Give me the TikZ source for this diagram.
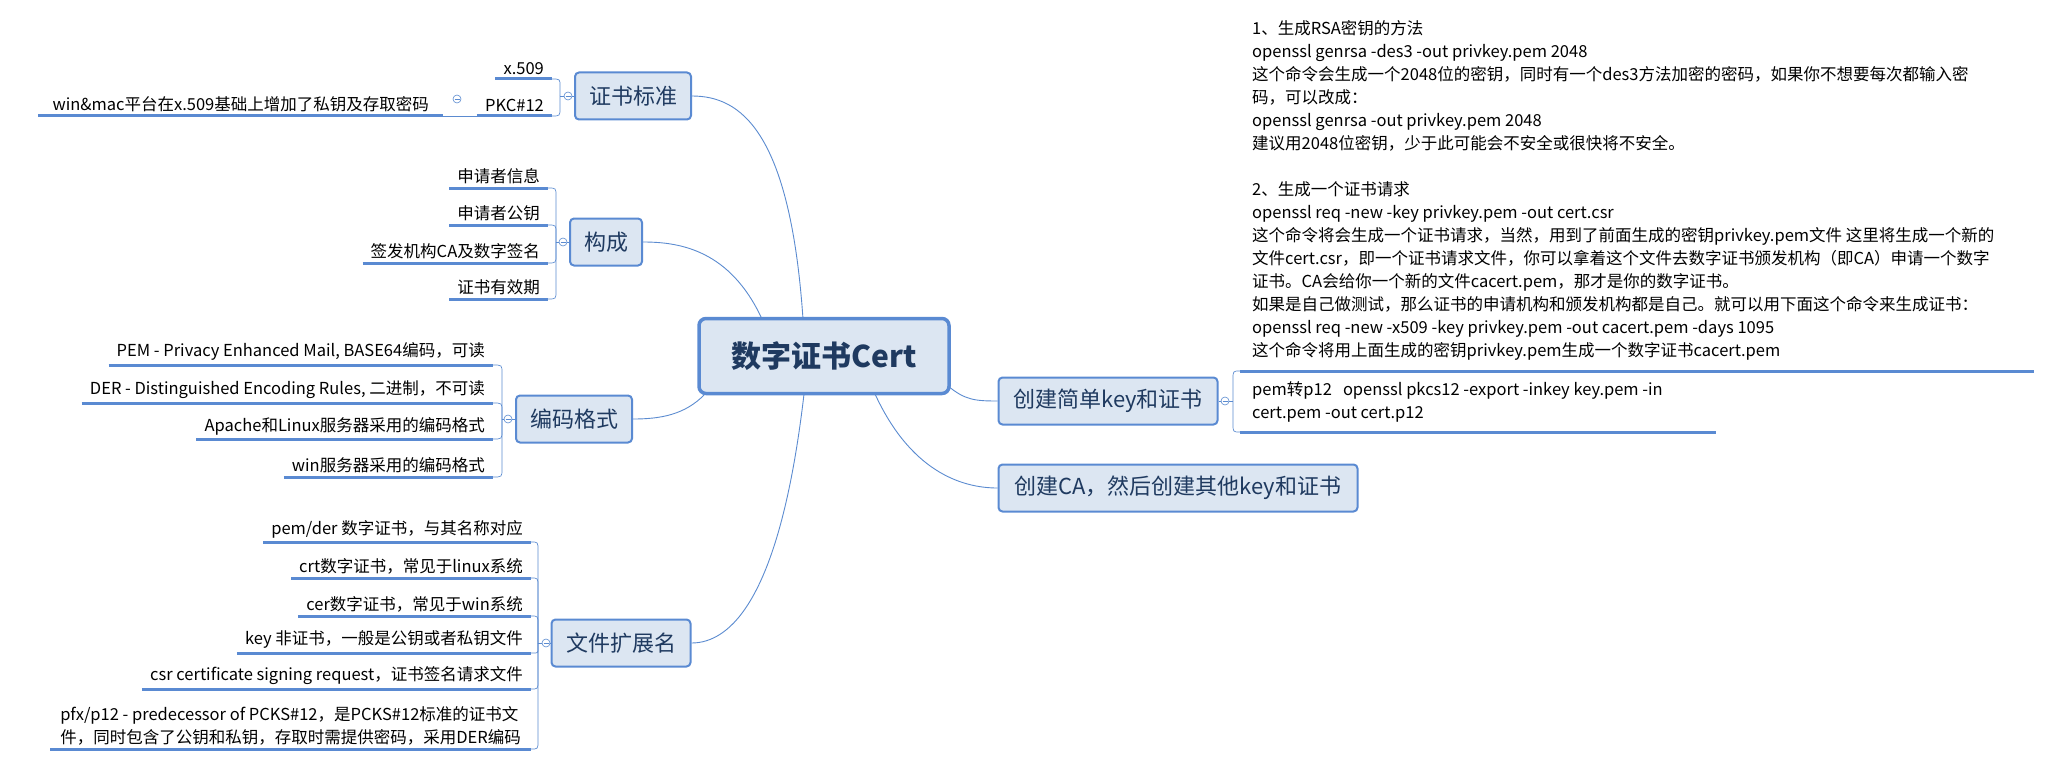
\documentclass[tikz,border=0pt]{standalone}
\usepackage{fontspec}
\setmainfont{Noto Sans CJK SC}
\begin{document}
\begin{tikzpicture}[x=1pt,y=-1pt,
  bl/.style={draw=blue!55!cyan!50!black},
  conn/.style={draw=lc,line width=0.9pt},
  topic/.style={draw=bc,fill=tf,line width=2pt,rounded corners=4pt,text=tc,font=\fontsize{22}{26}\selectfont,inner xsep=10pt,minimum height=47pt},
  leaf/.style={font=\fontsize{16.5}{23}\selectfont,inner xsep=8pt,inner ysep=4pt,anchor=south east},
  uline/.style={draw=uc,line width=3pt},
  tog/.style={draw=lc,fill=white,circle,inner sep=0pt,minimum size=8pt,line width=0.6pt}]
\definecolor{lc}{HTML}{5B8BD0}
\definecolor{uc}{HTML}{5A8AD2}
\definecolor{bc}{HTML}{5A8AD2}
\definecolor{tf}{HTML}{DCE6F2}
\definecolor{tc}{HTML}{1F3A60}
\useasboundingbox (0,0) rectangle (2050,765);
% center
\node[draw=bc,fill=tf,line width=3.5pt,rounded corners=7pt,text=tc,font=\bfseries\fontsize{30}{34}\selectfont,minimum width=250pt,minimum height=75pt] (c) at (824,356) {数字证书Cert};
% topics
\node[topic,minimum width=116pt] (t1) at (633,96) {证书标准};
\node[topic,minimum width=72pt] (t2) at (606,242) {构成};
\node[topic,minimum width=116pt] (t3) at (574,419) {编码格式};
\node[topic,minimum width=139pt] (t4) at (621,643) {文件扩展名};
\node[topic,minimum width=219pt] (t5) at (1108,401) {创建简单key和证书};
\node[topic,minimum width=359pt] (t6) at (1178,488) {创建CA，然后创建其他key和证书};
% center connectors
\coordinate (c1) at (803,319); \coordinate (c2) at (762,319);
\coordinate (c3) at (705,394); \coordinate (c4) at (804,394);
\coordinate (c5) at (948,386); \coordinate (c6) at (875,394);
\draw[conn] (c1) .. controls (790,130) and (740,96) .. (t1.east);
\draw[conn] (c2) .. controls (730,250) and (680,242) .. (t2.east);
\draw[conn] (c3) .. controls (685,415) and (660,419) .. (t3.east);
\draw[conn] (c4) .. controls (780,600) and (730,643) .. (t4.east);
\draw[conn] (c5) .. controls (965,400) and (975,401) .. (t5.west);
\draw[conn] (c6) .. controls (910,470) and (960,488) .. (t6.west);
% leaf macro: junction jx,jy ; leaf node end
\newcommand{\lbr}[4]{% #1 junction coord name, #2 leaf node, #3 jx, #4 sign
  \draw[conn,line width=0.7pt] (#1) |- ([xshift=0pt]#2.south east);}
% --- 证书标准
\node[leaf] (a1) at (552,79) {x.509};
\node[leaf] (a2) at (552,116) {PKC\#12};
\node[leaf,inner xsep=14pt] (a3) at (443,116) {win\&mac平台在x.509基础上增加了私钥及存取密码};
\foreach \n in {a1,a2,a3} \draw[uline] (\n.south west) -- (\n.south east);
\coordinate (j1) at (560,96);
\draw[conn,line width=0.7pt] (t1.west) -- (j1);
\draw[conn,line width=0.7pt] (j1) -- (560,86) .. controls (560,79) .. (a1.south east);
\draw[conn,line width=0.7pt] (j1) -- (560,108) .. controls (560,116) .. (a2.south east);
\draw[conn,line width=0.7pt] (a3.south east) -- (a2.south west);
\node[tog] (g1) at (568,96) {}; \draw[lc,line width=0.6pt] (565.5,96) -- (570.5,96);
\node[tog] (g1b) at (457,99) {}; \draw[lc,line width=0.6pt] (454.5,99) -- (459.5,99);
% --- 构成
\node[leaf] (b1) at (548,188) {申请者信息};
\node[leaf] (b2) at (548,225) {申请者公钥};
\node[leaf] (b3) at (548,263) {签发机构CA及数字签名};
\node[leaf] (b4) at (548,299) {证书有效期};
\foreach \n in {b1,b2,b3,b4} \draw[uline] (\n.south west) -- (\n.south east);
\coordinate (j2) at (556,242);
\draw[conn,line width=0.7pt] (t2.west) -- (j2);
\draw[conn,line width=0.7pt] (j2) -- (556,196) .. controls (556,188) .. (b1.south east);
\draw[conn,line width=0.7pt] (j2) -- (556,233) .. controls (556,225) .. (b2.south east);
\draw[conn,line width=0.7pt] (j2) -- (556,255) .. controls (556,263) .. (b3.south east);
\draw[conn,line width=0.7pt] (j2) -- (556,291) .. controls (556,299) .. (b4.south east);
\node[tog] (g2) at (563,242) {}; \draw[lc,line width=0.6pt] (560.5,242) -- (565.5,242);
% --- 编码格式
\node[leaf] (e1) at (493,365) {PEM - Privacy Enhanced Mail, BASE64编码，可读};
\node[leaf] (e2) at (493,403) {DER - Distinguished Encoding Rules, 二进制，不可读};
\node[leaf] (e3) at (493,439) {Apache和Linux服务器采用的编码格式};
\node[leaf] (e4) at (493,477) {win服务器采用的编码格式};
\foreach \n in {e1,e2,e3,e4} \draw[uline] (\n.south west) -- (\n.south east);
\coordinate (j3) at (502,419);
\draw[conn,line width=0.7pt] (t3.west) -- (j3);
\draw[conn,line width=0.7pt] (j3) -- (502,373) .. controls (502,365) .. (e1.south east);
\draw[conn,line width=0.7pt] (j3) -- (502,411) .. controls (502,403) .. (e2.south east);
\draw[conn,line width=0.7pt] (j3) -- (502,431) .. controls (502,439) .. (e3.south east);
\draw[conn,line width=0.7pt] (j3) -- (502,469) .. controls (502,477) .. (e4.south east);
\node[tog] (g3) at (508,419) {}; \draw[lc,line width=0.6pt] (505.5,419) -- (510.5,419);
% --- 文件扩展名
\node[leaf] (f1) at (531,542) {pem/der 数字证书，与其名称对应};
\node[leaf] (f2) at (531,578) {crt数字证书，常见于linux系统};
\node[leaf] (f3) at (531,616) {cer数字证书，常见于win系统};
\node[leaf] (f4) at (531,653) {key 非证书，一般是公钥或者私钥文件};
\node[leaf] (f5) at (531,689) {csr certificate signing request，证书签名请求文件};
\node[leaf,align=left,inner xsep=10pt] (f6) at (531,749) {pfx/p12 - predecessor of PCKS\#12，是PCKS\#12标准的证书文\\件，同时包含了公钥和私钥，存取时需提供密码，采用DER编码};
\foreach \n in {f1,f2,f3,f4,f5,f6} \draw[uline] (\n.south west) -- (\n.south east);
\coordinate (j4) at (538,643);
\draw[conn,line width=0.7pt] (t4.west) -- (j4);
\draw[conn,line width=0.7pt] (j4) -- (538,550) .. controls (538,542) .. (f1.south east);
\draw[conn,line width=0.7pt] (j4) -- (538,586) .. controls (538,578) .. (f2.south east);
\draw[conn,line width=0.7pt] (j4) -- (538,624) .. controls (538,616) .. (f3.south east);
\draw[conn,line width=0.7pt] (j4) -- (538,651) .. controls (538,653) .. (f4.south east);
\draw[conn,line width=0.7pt] (j4) -- (538,681) .. controls (538,689) .. (f5.south east);
\draw[conn,line width=0.7pt] (j4) -- (538,741) .. controls (538,749) .. (f6.south east);
\node[tog] (g4) at (546,643) {}; \draw[lc,line width=0.6pt] (543.5,643) -- (548.5,643);
% --- 创建简单key和证书
\node[font=\fontsize{16.5}{23}\selectfont,align=left,anchor=north west,inner sep=0pt] (r1) at (1252,20) {1、生成RSA密钥的方法\\
openssl genrsa -des3 -out privkey.pem 2048\\
这个命令会生成一个2048位的密钥，同时有一个des3方法加密的密码，如果你不想要每次都输入密\\
码，可以改成：\\
openssl genrsa -out privkey.pem 2048\\
建议用2048位密钥，少于此可能会不安全或很快将不安全。\\[23pt]
2、生成一个证书请求\\
openssl req -new -key privkey.pem -out cert.csr\\
这个命令将会生成一个证书请求，当然，用到了前面生成的密钥privkey.pem文件 这里将生成一个新的\\
文件cert.csr，即一个证书请求文件，你可以拿着这个文件去数字证书颁发机构（即CA）申请一个数字\\
证书。CA会给你一个新的文件cacert.pem，那才是你的数字证书。\\
如果是自己做测试，那么证书的申请机构和颁发机构都是自己。就可以用下面这个命令来生成证书：\\
openssl req -new -x509 -key privkey.pem -out cacert.pem -days 1095\\
这个命令将用上面生成的密钥privkey.pem生成一个数字证书cacert.pem};
\coordinate (r1a) at (1240,371); \coordinate (r1b) at (2034,371);
\draw[uline] (r1a) -- (r1b);
\node[font=\fontsize{16.5}{23}\selectfont,align=left,anchor=north west,inner sep=0pt] (r2) at (1252,381) {pem转p12 \ \ openssl pkcs12 -export -inkey key.pem -in\\cert.pem -out cert.p12};
\coordinate (r2a) at (1240,432); \coordinate (r2b) at (1716,432);
\draw[uline] (r2a) -- (r2b);
\coordinate (j5) at (1233,401);
\draw[conn,line width=0.7pt] (t5.east) -- (j5);
\draw[conn,line width=0.7pt] (j5) -- (1233,379) .. controls (1233,371) .. (r1a);
\draw[conn,line width=0.7pt] (j5) -- (1233,424) .. controls (1233,432) .. (r2a);
\node[tog] (g5) at (1225,401) {}; \draw[lc,line width=0.6pt] (1222.5,401) -- (1227.5,401);
\end{tikzpicture}
\end{document}
